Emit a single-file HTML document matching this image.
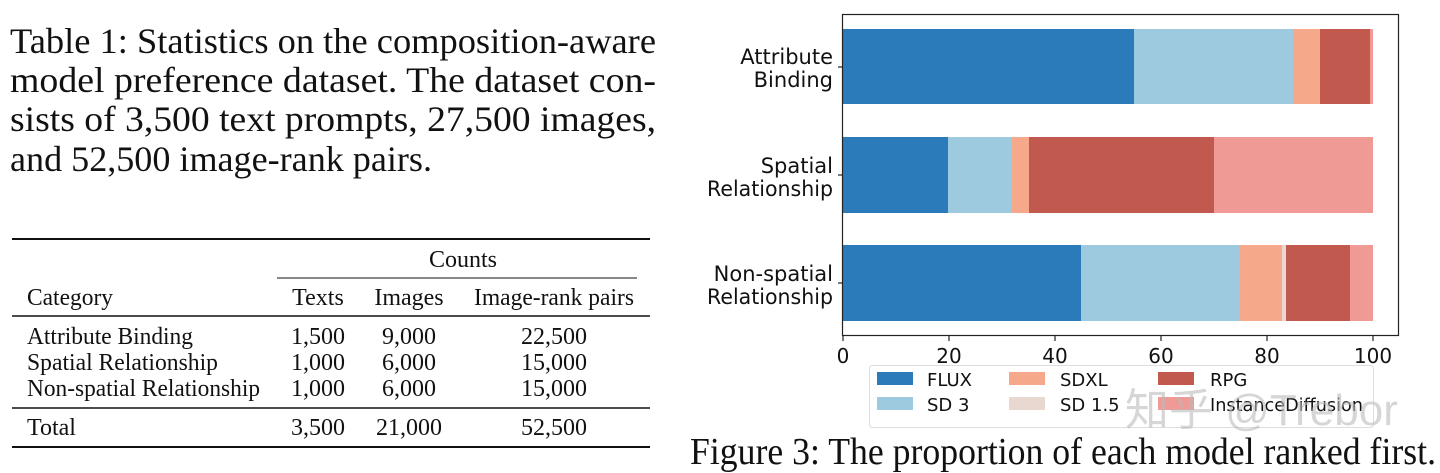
<!DOCTYPE html>
<html><head><meta charset="utf-8">
<style>
html,body{margin:0;padding:0;background:#fff;}
svg{display:block;}
.s{font-family:"Liberation Serif",serif;fill:#111;}
.d{font-family:"DejaVu Sans",sans-serif;fill:#111;}
</style></head><body>
<svg width="1440" height="473" viewBox="0 0 1440 473" xmlns="http://www.w3.org/2000/svg">
<g class="s" font-size="36">
<text x="10" y="53" textLength="646" lengthAdjust="spacingAndGlyphs">Table 1: Statistics on the composition-aware</text>
<text x="10" y="92" textLength="646" lengthAdjust="spacingAndGlyphs">model preference dataset.  The dataset con-</text>
<text x="10" y="131" textLength="646" lengthAdjust="spacingAndGlyphs">sists of 3,500 text prompts, 27,500 images,</text>
<text x="10" y="171" textLength="422" lengthAdjust="spacingAndGlyphs">and 52,500 image-rank pairs.</text>
</g>
<g stroke="#111">
<line x1="12" y1="239" x2="650" y2="239" stroke-width="2"/>
<line x1="277" y1="278" x2="637" y2="278" stroke-width="1"/>
<line x1="12" y1="316" x2="650" y2="316" stroke-width="1.5"/>
<line x1="12" y1="408" x2="650" y2="408" stroke-width="1.5"/>
<line x1="12" y1="447" x2="650" y2="447" stroke-width="2"/>
</g>
<g class="s" font-size="24">
<text x="463" y="267" text-anchor="middle">Counts</text>
<text x="27" y="305" textLength="86" lengthAdjust="spacingAndGlyphs">Category</text>
<text x="318" y="305" text-anchor="middle">Texts</text>
<text x="409" y="305" text-anchor="middle">Images</text>
<text x="554" y="305" text-anchor="middle" textLength="160" lengthAdjust="spacingAndGlyphs">Image-rank pairs</text>
<text x="27" y="344" textLength="166" lengthAdjust="spacingAndGlyphs">Attribute Binding</text>
<text x="27" y="370" textLength="191" lengthAdjust="spacingAndGlyphs">Spatial Relationship</text>
<text x="27" y="396" textLength="233" lengthAdjust="spacingAndGlyphs">Non-spatial Relationship</text>
<text x="27" y="435">Total</text>
<g text-anchor="middle">
<text x="318" y="344">1,500</text><text x="409" y="344">9,000</text><text x="554" y="344">22,500</text>
<text x="318" y="370">1,000</text><text x="409" y="370">6,000</text><text x="554" y="370">15,000</text>
<text x="318" y="396">1,000</text><text x="409" y="396">6,000</text><text x="554" y="396">15,000</text>
<text x="318" y="435">3,500</text><text x="409" y="435">21,000</text><text x="554" y="435">52,500</text>
</g>
</g>
<g>
<rect x="843" y="29" width="291" height="75" fill="#2b7bba"/>
<rect x="1134" y="29" width="159" height="75" fill="#9dcadf"/>
<rect x="1293" y="29" width="27" height="75" fill="#f5a98a"/>
<rect x="1320" y="29" width="50" height="75" fill="#c1594f"/>
<rect x="1370" y="29" width="3" height="75" fill="#ef9a95"/>
<rect x="843" y="137" width="105" height="76" fill="#2b7bba"/>
<rect x="948" y="137" width="64" height="76" fill="#9dcadf"/>
<rect x="1012" y="137" width="17" height="76" fill="#f5a98a"/>
<rect x="1029" y="137" width="185" height="76" fill="#c1594f"/>
<rect x="1214" y="137" width="159" height="76" fill="#ef9a95"/>
<rect x="843" y="245" width="238" height="76" fill="#2b7bba"/>
<rect x="1081" y="245" width="159" height="76" fill="#9dcadf"/>
<rect x="1240" y="245" width="42" height="76" fill="#f5a98a"/>
<rect x="1282" y="245" width="4" height="76" fill="#e8d8d0"/>
<rect x="1286" y="245" width="64" height="76" fill="#c1594f"/>
<rect x="1350" y="245" width="23" height="76" fill="#ef9a95"/>
</g>
<rect x="842.5" y="14.5" width="556" height="321" fill="none" stroke="#222" stroke-width="1.2"/>
<g stroke="#222" stroke-width="1.2">
<line x1="843" y1="336" x2="843" y2="341"/><line x1="949" y1="336" x2="949" y2="341"/>
<line x1="1055" y1="336" x2="1055" y2="341"/><line x1="1161" y1="336" x2="1161" y2="341"/>
<line x1="1267" y1="336" x2="1267" y2="341"/><line x1="1373" y1="336" x2="1373" y2="341"/>
<line x1="838" y1="67" x2="843" y2="67"/><line x1="838" y1="175" x2="843" y2="175"/><line x1="838" y1="283" x2="843" y2="283"/>
</g>
<g class="d" font-size="20" text-anchor="middle">
<text x="843" y="363">0</text><text x="949" y="363">20</text><text x="1055" y="363">40</text>
<text x="1161" y="363">60</text><text x="1267" y="363">80</text><text x="1373" y="363">100</text>
</g>
<g class="d" font-size="21" text-anchor="end">
<text x="833" y="64">Attribute</text><text x="833" y="87">Binding</text>
<text x="833" y="173">Spatial</text><text x="833" y="196" textLength="126" lengthAdjust="spacingAndGlyphs">Relationship</text>
<text x="833" y="281">Non-spatial</text><text x="833" y="304" textLength="126" lengthAdjust="spacingAndGlyphs">Relationship</text>
</g>
<rect x="869.5" y="365.5" width="504" height="62" rx="3" fill="#fff" stroke="#ddd"/>
<rect x="877" y="372" width="36" height="13" fill="#2b7bba"/>
<rect x="877" y="397" width="36" height="13" fill="#9dcadf"/>
<rect x="1009" y="372" width="36" height="13" fill="#f5a98a"/>
<rect x="1009" y="397" width="36" height="13" fill="#e8d8d0"/>
<rect x="1158" y="372" width="36" height="13" fill="#c1594f"/>
<rect x="1158" y="397" width="36" height="13" fill="#ef9a95"/>
<g class="d" font-size="18">
<text x="927" y="386">FLUX</text><text x="927" y="411">SD 3</text>
<text x="1060" y="386">SDXL</text><text x="1060" y="411">SD 1.5</text>
<text x="1210" y="386">RPG</text><text x="1210" y="411" textLength="153" lengthAdjust="spacingAndGlyphs">InstanceDiffusion</text>
</g>
<text x="1125" y="425" font-family="'Liberation Sans','Noto Sans CJK SC',sans-serif" font-size="44" fill="#bbb" fill-opacity="0.6">知乎 @Trebor</text>
<text class="s" x="690" y="464" font-size="38" textLength="746" lengthAdjust="spacingAndGlyphs">Figure 3: The proportion of each model ranked first.</text>
</svg>
</body></html>
